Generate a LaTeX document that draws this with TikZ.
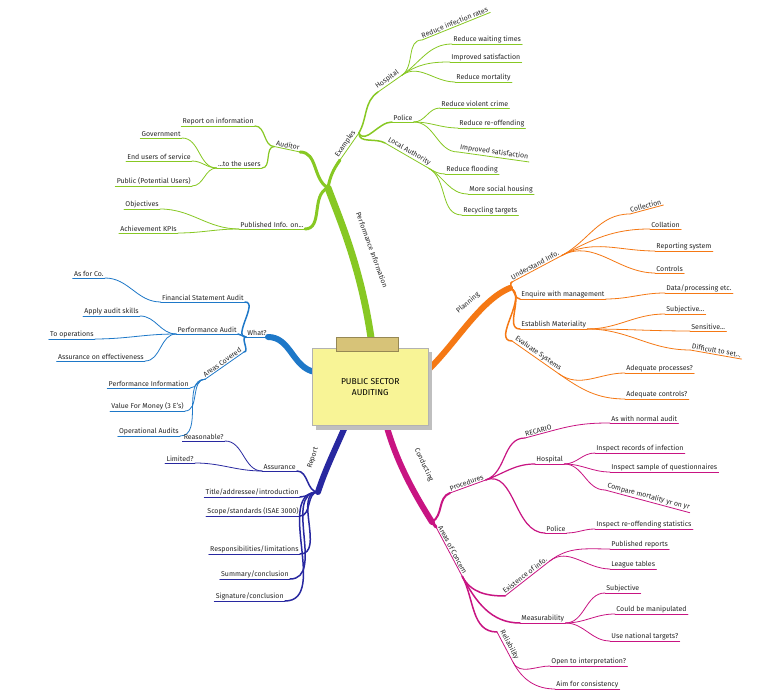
\documentclass[tikz,border=0pt]{standalone}
\usepackage{fontspec}
\setmainfont{Fira Sans}
\definecolor{gr}{RGB}{135,200,35}
\definecolor{bl}{RGB}{30,120,200}
\definecolor{nv}{RGB}{40,40,160}
\definecolor{og}{RGB}{245,120,20}
\definecolor{mg}{RGB}{200,20,130}
\definecolor{note}{RGB}{248,244,150}
\definecolor{tape}{RGB}{215,195,120}
\tikzset{lbl/.style={font=\fontsize{7}{8}\selectfont,inner sep=1.2pt,text=black!85}}
\newcommand\R[6]{\node[lbl,anchor=south west,rotate=#5] (#2) at (#3,700-#4) {#6};\draw[#1,line width=.8pt] (#2.south west)--(#2.south east);}
\newcommand\Lf[6]{\node[lbl,anchor=south east,rotate=#5] (#2) at (#3,700-#4) {#6};\draw[#1,line width=.8pt] (#2.south west)--(#2.south east);}
\newcommand\cc[6]{\draw[#1,line width=#2] (#3) to[out=#4,in=#5] (#6);}
\begin{document}
\begin{tikzpicture}[x=1pt,y=1pt,line cap=round]
\useasboundingbox (0,0) rectangle (768,700);
\fill[white] (0,0) rectangle (768,700);
% ---------- green
\draw[gr,line width=7pt] (372,700-345) .. controls (362,700-270) and (340,700-220) .. (328,700-188);
\coordinate (F1) at (328,700-188);
\node[lbl,rotate=-70] (PI) at (372,700-250) {Performance Information};
\R{gr}{Ex}{340}{160}{55}{Examples}
\cc{gr}{3pt}{F1}{80}{235}{Ex.south west}
\R{gr}{Ho}{378}{92}{35}{Hospital}
\R{gr}{Po}{392}{122}{0}{Police}
\R{gr}{LA}{385}{143}{-30}{Local Authority}
\cc{gr}{1.5pt}{Ex.south east}{60}{215}{Ho.south west}
\cc{gr}{1.5pt}{Ex.south east}{-60}{180}{Po.south west}
\cc{gr}{1.5pt}{Ex.south east}{-90}{150}{LA.south west}
\R{gr}{h1}{422}{40}{22}{Reduce infection rates}
\R{gr}{h2}{452}{44}{0}{Reduce waiting times}
\R{gr}{h3}{450}{62}{0}{Improved satisfaction}
\R{gr}{h4}{455}{82}{0}{Reduce mortality}
\foreach \c in {h1,h2,h3,h4}{\cc{gr}{.8pt}{Ho.south east}{35}{180}{\c.south west}}
\R{gr}{p1}{440}{108}{0}{Reduce violent crime}
\R{gr}{p2}{458}{128}{0}{Reduce re-offending}
\R{gr}{p3}{458}{152}{-8}{Improved satisfaction}
\foreach \c in {p1,p2,p3}{\cc{gr}{.8pt}{Po.south east}{0}{180}{\c.south west}}
\R{gr}{l1}{445}{174}{0}{Reduce flooding}
\R{gr}{l2}{468}{194}{0}{More social housing}
\R{gr}{l3}{462}{215}{0}{Recycling targets}
\foreach \c in {l1,l2,l3}{\cc{gr}{.8pt}{LA.south east}{-30}{180}{\c.south west}}
\Lf{gr}{Au}{300}{152}{-12}{Auditor}
\cc{gr}{3pt}{F1}{150}{0}{Au.south east}
\Lf{gr}{a1}{255}{126}{0}{Report on information}
\Lf{gr}{a2}{262}{168}{0}{...to the users}
\cc{gr}{1.2pt}{Au.south west}{180}{0}{a1.south east}
\cc{gr}{1.2pt}{Au.south west}{180}{0}{a2.south east}
\Lf{gr}{u1}{182}{138}{0}{Government}
\Lf{gr}{u2}{192}{161}{0}{End users of service}
\Lf{gr}{u3}{192}{186}{0}{Public (Potential Users)}
\foreach \c in {u1,u2,u3}{\cc{gr}{.8pt}{a2.south west}{180}{0}{\c.south east}}
\Lf{gr}{Pb}{305}{229}{0}{Published Info. on...}
\cc{gr}{3pt}{F1}{200}{0}{Pb.south east}
\Lf{gr}{o1}{160}{209}{0}{Objectives}
\Lf{gr}{o2}{178}{233}{0}{Achievement KPIs}
\foreach \c in {o1,o2}{\cc{gr}{.8pt}{Pb.south west}{180}{0}{\c.south east}}
% ---------- blue
\Lf{bl}{Wh}{268}{337}{0}{What?}
\draw[bl,line width=6pt] (315,700-372) to[out=170,in=0] (Wh.south east);
\Lf{bl}{w1}{245}{302}{0}{Financial Statement Audit}
\Lf{bl}{w2}{238}{334}{0}{Performance Audit}
\Lf{bl}{w3}{244}{352}{35}{Areas Covered}
\foreach \c in {w1,w2,w3}{\cc{bl}{1.5pt}{Wh.south west}{180}{0}{\c.south east}}
\Lf{bl}{f1}{105}{278}{0}{As for Co.}
\cc{bl}{.8pt}{w1.south west}{180}{0}{f1.south east}
\Lf{bl}{q1}{140}{316}{0}{Apply audit skills}
\Lf{bl}{q2}{95}{339}{0}{To operations}
\Lf{bl}{q3}{145}{361}{0}{Assurance on effectiveness}
\foreach \c in {q1,q2,q3}{\cc{bl}{.8pt}{w2.south west}{180}{0}{\c.south east}}
\Lf{bl}{c1}{190}{388}{0}{Performance Information}
\Lf{bl}{c2}{185}{411}{0}{Value For Money (3 E's)}
\Lf{bl}{c3}{180}{436}{0}{Operational Audits}
\foreach \c in {c1,c2,c3}{\cc{bl}{.8pt}{w3.south west}{180}{0}{\c.south east}}
% ---------- navy
\draw[nv,line width=6pt] (348,700-420) .. controls (335,700-450) and (325,700-470) .. (318,700-492);
\coordinate (F3) at (318,700-492);
\node[lbl,rotate=72] (Rp) at (313,700-458) {Report};
\Lf{nv}{As}{297}{471}{0}{Assurance}
\Lf{nv}{r1}{300}{497}{0}{Title/addressee/introduction}
\Lf{nv}{r2}{300}{516}{0}{Scope/standards (ISAE 3000)}
\Lf{nv}{r3}{300}{554}{0}{Responsibilities/limitations}
\Lf{nv}{r4}{290}{579}{0}{Summary/conclusion}
\Lf{nv}{r5}{285}{601}{0}{Signature/conclusion}
\foreach \c in {As,r1,r2,r3,r4,r5}{\cc{nv}{1.5pt}{F3}{180}{0}{\c.south east}}
\Lf{nv}{s1}{225}{441}{0}{Reasonable?}
\Lf{nv}{s2}{195}{463}{0}{Limited?}
\foreach \c in {s1,s2}{\cc{nv}{.8pt}{As.south west}{180}{0}{\c.south east}}
% ---------- orange
\draw[og,line width=6pt] (426,700-372) .. controls (455,700-345) and (480,700-300) .. (510,700-288);
\coordinate (F4) at (510,700-288);
\node[lbl,rotate=40] (Pl) at (468,700-303) {Planning};
\R{og}{U}{512}{282}{28}{Understand Info.}
\R{og}{En}{520}{299}{0}{Enquire with management}
\R{og}{Es}{520}{329}{0}{Establish Materiality}
\R{og}{Ev}{512}{341}{-35}{Evaluate Systems}
\foreach \c in {U,En,Es,Ev}{\cc{og}{1.5pt}{F4}{-20}{180}{\c.south west}}
\R{og}{u1}{630}{214}{15}{Collection}
\R{og}{u2}{650}{229}{0}{Collation}
\R{og}{u3}{655}{251}{0}{Reporting system}
\R{og}{u4}{655}{273}{0}{Controls}
\foreach \c in {u1,u2,u3,u4}{\cc{og}{.8pt}{U.south east}{28}{180}{\c.south west}}
\R{og}{d1}{665}{293}{0}{Data/processing etc.}
\cc{og}{.8pt}{En.south east}{0}{180}{d1.south west}
\R{og}{m1}{665}{314}{0}{Subjective...}
\R{og}{m2}{690}{331}{0}{Sensitive...}
\R{og}{m3}{690}{350}{-10}{Difficult to set...}
\foreach \c in {m1,m2,m3}{\cc{og}{.8pt}{Es.south east}{0}{180}{\c.south west}}
\R{og}{e1}{625}{373}{0}{Adequate processes?}
\R{og}{e2}{625}{399}{0}{Adequate controls?}
\foreach \c in {e1,e2}{\cc{og}{.8pt}{Ev.south east}{-35}{180}{\c.south west}}
% ---------- magenta
\draw[mg,line width=6pt] (385,700-420) .. controls (395,700-460) and (415,700-495) .. (432,700-522);
\coordinate (F5) at (432,700-522);
\node[lbl,rotate=-65] (Co) at (424,700-465) {Conducting};
\R{mg}{Pr}{450}{493}{20}{Procedures}
\cc{mg}{2pt}{F5}{30}{200}{Pr.south west}
\R{mg}{Rc}{525}{438}{15}{RECARIO}
\R{mg}{Hs}{535}{464}{0}{Hospital}
\R{mg}{Pc}{545}{533}{0}{Police}
\foreach \c in {Rc,Hs,Pc}{\cc{mg}{1.2pt}{Pr.south east}{20}{180}{\c.south west}}
\R{mg}{k0}{610}{423}{0}{As with normal audit}
\cc{mg}{.8pt}{Rc.south east}{15}{180}{k0.south west}
\R{mg}{k1}{595}{453}{0}{Inspect records of infection}
\R{mg}{k2}{610}{472}{0}{Inspect sample of questionnaires}
\R{mg}{k3}{605}{490}{-15}{Compare mortality yr on yr}
\foreach \c in {k1,k2,k3}{\cc{mg}{.8pt}{Hs.south east}{0}{180}{\c.south west}}
\R{mg}{k4}{595}{529}{0}{Inspect re-offending statistics}
\cc{mg}{.8pt}{Pc.south east}{0}{180}{k4.south west}
\R{mg}{AoC}{436}{527}{-62}{Areas of Concern}
\cc{mg}{3pt}{F5}{-60}{118}{AoC.south west}
\R{mg}{Ei}{505}{596}{38}{Existence of info.}
\R{mg}{Me}{520}{623}{0}{Measurability}
\R{mg}{Rl}{497}{632}{-62}{Reliability}
\foreach \c in {Ei,Me,Rl}{\cc{mg}{1.5pt}{AoC.south east}{-62}{180}{\c.south west}}
\R{mg}{x1}{610}{549}{0}{Published reports}
\R{mg}{x2}{610}{569}{0}{League tables}
\foreach \c in {x1,x2}{\cc{mg}{.8pt}{Ei.south east}{38}{180}{\c.south west}}
\R{mg}{y1}{605}{593}{0}{Subjective}
\R{mg}{y2}{615}{614}{0}{Could be manipulated}
\R{mg}{y3}{610}{641}{0}{Use national targets?}
\foreach \c in {y1,y2,y3}{\cc{mg}{.8pt}{Me.south east}{0}{180}{\c.south west}}
\R{mg}{z1}{550}{666}{0}{Open to interpretation?}
\R{mg}{z2}{555}{689}{0}{Aim for consistency}
\foreach \c in {z1,z2}{\cc{mg}{.8pt}{Rl.south east}{-62}{180}{\c.south west}}
% ---------- note
\fill[black!25] (316,700-430) rectangle (432,700-352);
\node[draw=black!30,fill=note,minimum width=116pt,minimum height=77pt,anchor=north west,font=\fontsize{8.5}{11}\selectfont,align=center] (N) at (312,700-348) {PUBLIC SECTOR\\AUDITING};
\node[fill=tape,draw=tape!70!black,minimum width=62pt,minimum height=14pt] (T) at (367,700-344) {};
\end{tikzpicture}
\end{document}
